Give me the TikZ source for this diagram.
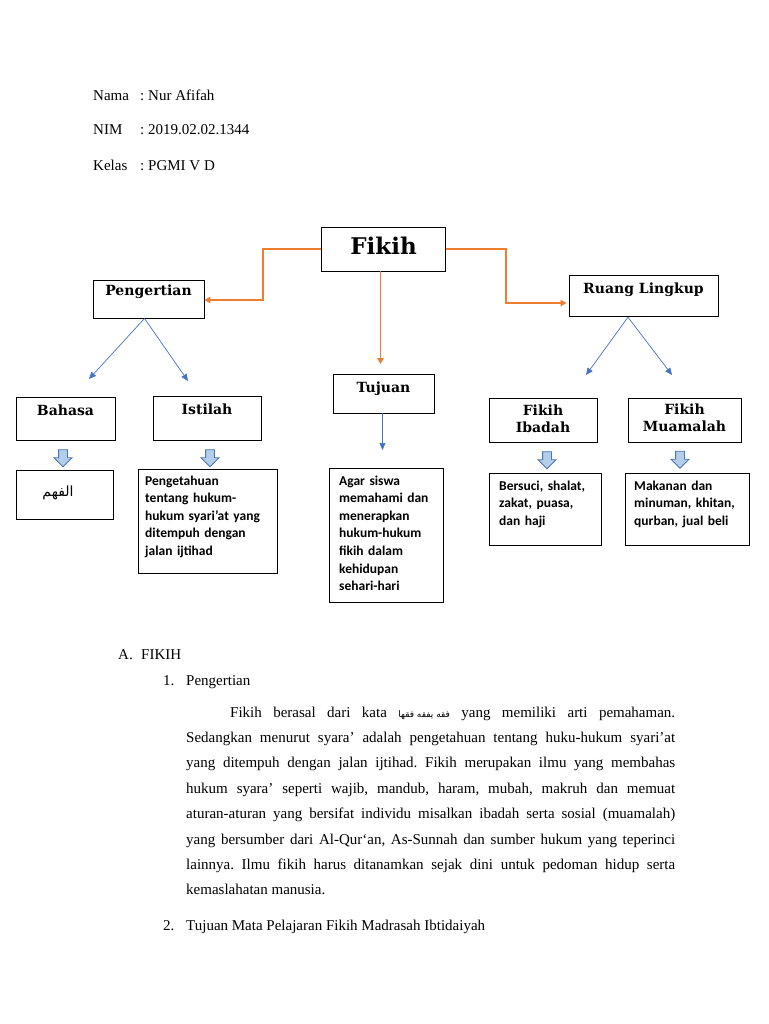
\documentclass[tikz,border=0pt]{standalone}
\usepackage{fontspec}
\setmainfont{Liberation Serif}
\newfontfamily\headfont{DejaVu Serif}
\newfontfamily\boxfont{Carlito}
\newfontfamily\arabicfont[Script=Arabic]{DejaVu Sans}
\TeXXeTstate=1
\frenchspacing
\usetikzlibrary{arrows.meta,shapes.arrows}
\definecolor{orng}{HTML}{ED7D31}
\definecolor{blu}{HTML}{4472C4}
\definecolor{lblu}{HTML}{B4CDE8}
\definecolor{dblu}{HTML}{4A76B5}
\begin{document}
\begin{tikzpicture}[x=1pt,y=-1pt,
  box/.style={draw=black, line width=0.9pt, inner sep=0pt},
  hd/.style={font=\headfont\bfseries\fontsize{14}{17}\selectfont, inner sep=0pt, anchor=base},
  bx/.style={font=\boxfont\bfseries\fontsize{13.5}{17.6}\selectfont, inner sep=0pt, anchor=base west, align=left},
  txt/.style={font=\fontsize{15}{25.4}\selectfont, inner sep=0pt, anchor=base west},
  oarr/.style={draw=orng, line width=1.1pt, -{Triangle[length=6pt,width=6.5pt]}},
  barr/.style={draw=blu, line width=0.7pt, -{Triangle[length=7pt,width=6pt]}},
  hollow/.style={single arrow, shape border rotate=270, draw=dblu, fill=lblu, line width=0.8pt, inner sep=4pt, minimum height=17pt, single arrow head extend=4.5pt, single arrow tip angle=90}
]
\fill[white] (0,0) rectangle (768,1024);
\useasboundingbox (0,0) rectangle (768,1024);

% header
\node[txt] (lnama) at (93,101) {Nama};
\node[txt] (cnama) at (140,101) {:};
\node[txt] (vnama) at (148,101) {Nur Afifah};
\node[txt] (lnim) at (93,135) {NIM};
\node[txt] (cnim) at (140,135) {:};
\node[txt] (vnim) at (148,135) {2019.02.02.1344};
\node[txt] (lkelas) at (93,170.5) {Kelas};
\node[txt] (ckelas) at (140,170.5) {:};
\node[txt] (vkelas) at (148,170.5) {PGMI V D};

% boxes
\node[box, minimum width=124pt, minimum height=44pt] (fikih) at (383.7,249) {};
\node[hd, font=\headfont\bfseries\fontsize{23}{26}\selectfont] (tfikih) at (383.5,254.5) {Fikih};
\node[box, minimum width=111pt, minimum height=38pt] (peng) at (148.5,299) {};
\node[hd] (tpeng) at (148.5,295) {Pengertian};
\node[box, minimum width=149pt, minimum height=41.5pt] (ruang) at (643.5,296) {};
\node[hd] (truang) at (643.5,293) {Ruang Lingkup};
\node[box, minimum width=101pt, minimum height=39pt] (tujuan) at (383.5,393.5) {};
\node[hd] (ttujuan) at (383.5,392) {Tujuan};
\node[box, minimum width=99pt, minimum height=43pt] (bahasa) at (65.5,418.5) {};
\node[hd] (tbahasa) at (65.5,415) {Bahasa};
\node[box, minimum width=108pt, minimum height=44pt] (istilah) at (207,418) {};
\node[hd] (tistilah) at (207,414) {Istilah};
\node[box, minimum width=108pt, minimum height=44pt] (ibadah) at (543,420) {};
\node[hd, text width=100pt, align=center] (tibadah) at (543,415) {Fikih\\Ibadah};
\node[box, minimum width=113pt, minimum height=44pt] (muamalah) at (684.5,420) {};
\node[hd, text width=110pt, align=center] (tmuamalah) at (684.5,414) {Fikih\\Muamalah};

\node[box, minimum width=97pt, minimum height=49pt] (fahm) at (64.5,494.5) {};
\node[font=\arabicfont\fontsize{14}{16}\selectfont, inner sep=0pt] (tfahm) at (58,493) {\beginR الفهم\endR};
\node[box, minimum width=139pt, minimum height=104pt] (istdef) at (207.5,521) {};
\node[bx, text width=128pt] (tistdef) at (145,485) {Pengetahuan\\tentang hukum-\\hukum syari’at yang\\ditempuh dengan\\jalan ijtihad};
\node[box, minimum width=114pt, minimum height=134pt] (tujdef) at (386,535.5) {};
\node[bx, text width=100pt] (ttujdef) at (339,485) {Agar siswa\\memahami dan\\menerapkan\\hukum-hukum\\fikih dalam\\kehidupan\\sehari-hari};
\node[box, minimum width=112pt, minimum height=72pt] (ibdef) at (545,509.5) {};
\node[bx, text width=100pt] (tibdef) at (499,490) {Bersuci, shalat,\\zakat, puasa,\\dan haji};
\node[box, minimum width=124pt, minimum height=72pt] (mudef) at (687,509.5) {};
\node[bx, text width=112pt] (tmudef) at (634,490) {Makanan dan\\minuman, khitan,\\qurban, jual beli};

% hollow arrows
\node[hollow] (h1) at (63,456) {};
\node[hollow] (h2) at (210,456) {};
\node[hollow] (h3) at (547,458) {};
\node[hollow] (h4) at (680,457.5) {};

% orange connectors
\coordinate (lbend) at (263,300);
\coordinate (rbend) at (506,303);
\coordinate (dtip) at (380.5,364);
\draw[oarr] (fikih.west) -| (lbend) -- (peng.east |- lbend);
\draw[oarr] (fikih.east) -| (rbend) -- ([xshift=-2pt]ruang.west |- rbend);
\draw[oarr] (fikih.south -| dtip) -- (dtip);

% blue connectors
\coordinate (pl) at (89,379);
\coordinate (pr) at (188,381);
\coordinate (rl) at (586,375);
\coordinate (rr) at (672,375);
\coordinate (tt) at (382.5,450);
\draw[barr] ([xshift=-4pt]peng.south) -- (pl);
\draw[barr] ([xshift=-4pt]peng.south) -- (pr);
\draw[barr] ([xshift=-15.5pt]ruang.south) -- (rl);
\draw[barr] ([xshift=-15.5pt]ruang.south) -- (rr);
\draw[barr] (tujuan.south -| tt) -- (tt);

% body text
\node[txt] (la) at (118,659) {A.};
\node[txt] (ta) at (141,659) {FIKIH};
\node[txt] (l1) at (163,685) {1.};
\node[txt] (t1) at (186,685) {Pengertian};
\node[txt, text width=489pt, align=justify] (para) at (186,717) {\hspace*{44pt}Fikih berasal dari kata \mbox{\arabicfont\fontsize{9}{9}\selectfont\beginR فقه يفقه فقها\endR} yang memiliki arti pemahaman.\linebreak
Sedangkan menurut syara’ adalah pengetahuan tentang huku-hukum syari’at\linebreak
yang ditempuh dengan jalan ijtihad. Fikih merupakan ilmu yang membahas\linebreak
hukum syara’ seperti wajib, mandub, haram, mubah, makruh dan memuat\linebreak
aturan-aturan yang bersifat individu misalkan ibadah serta sosial (muamalah)\linebreak
yang bersumber dari Al-Qur`an, As-Sunnah dan sumber hukum yang teperinci\linebreak
lainnya. Ilmu fikih harus ditanamkan sejak dini untuk pedoman hidup serta\linebreak
kemaslahatan manusia.};
\node[txt] (l2) at (163,930) {2.};
\node[txt] (t2) at (186,930) {Tujuan Mata Pelajaran Fikih Madrasah Ibtidaiyah};
\end{tikzpicture}
\end{document}
